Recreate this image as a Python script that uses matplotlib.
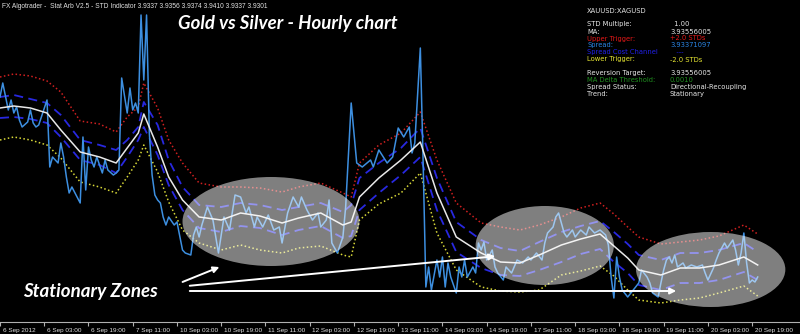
import matplotlib
matplotlib.use("Agg")
import matplotlib.pyplot as plt
import matplotlib.transforms as mtransforms
from matplotlib.patches import Ellipse

# hourly bars from 6 Sep 2012, one label every 16 bars
tick_bars = list(range(0, 273, 16))
tick_labels = ["6 Sep 2012", "6 Sep 03:00", "6 Sep 19:00", "7 Sep 11:00",
               "10 Sep 03:00", "10 Sep 19:00", "11 Sep 11:00", "12 Sep 03:00",
               "12 Sep 19:00", "13 Sep 11:00", "14 Sep 03:00", "14 Sep 19:00",
               "17 Sep 11:00", "18 Sep 03:00", "18 Sep 19:00", "19 Sep 11:00",
               "20 Sep 03:00", "20 Sep 19:00"]

# spread (chart units)
spread_bars = [0, 1, 3, 4, 5, 6, 7, 8, 10, 11, 12, 13, 14, 17, 18, 19, 21, 22, 23, 24,
               25, 26, 29, 30, 31, 32, 33, 34, 35, 37, 38, 39, 41, 42, 43, 44, 46, 47, 48, 49,
               50, 51, 52, 53, 54, 55, 56, 57, 58, 59, 60, 61, 63, 64, 66, 67, 69, 70, 71, 72,
               73, 75, 77, 79, 81, 83, 85, 87, 89, 90, 92, 93, 95, 97, 99, 101, 102, 104, 106, 108,
               109, 111, 113, 115, 116, 118, 119, 120, 122, 124, 125, 127, 129, 131, 134, 135, 137, 140, 142, 144,
               146, 148, 149, 150, 152, 153, 154, 155, 156, 158, 159, 160, 161, 162, 163, 165, 166, 167, 168, 169,
               171, 172, 173, 174, 175, 176, 178, 179, 180, 182, 183, 185, 187, 189, 191, 192, 194, 196, 197, 198,
               200, 201, 202, 203, 204, 205, 207, 208, 210, 212, 213, 215, 217, 219, 220, 221, 222, 223, 224, 225,
               227, 229, 231, 232, 234, 235, 236, 238, 239, 240, 241, 242, 243, 244, 245, 247, 248, 250, 252, 254,
               255, 256, 258, 259, 260, 261, 262, 263, 265, 266, 267, 268, 269, 270, 271, 272, 273, 274]
spread = [225, 239, 212, 222, 209, 215, 202, 195, 200, 212, 199, 195, 197, 222, 155, 165, 159, 179, 165, 145,
          129, 135, 119, 185, 132, 175, 162, 155, 165, 149, 162, 152, 147, 149, 152, 244, 209, 234, 212, 219,
          209, 307, 242, 307, 189, 147, 127, 122, 119, 105, 97, 105, 97, 100, 72, 69, 67, 87, 95, 85,
          97, 115, 102, 69, 105, 92, 127, 125, 109, 115, 95, 105, 95, 107, 92, 95, 79, 109, 125, 115,
          125, 112, 102, 109, 95, 102, 122, 79, 69, 85, 115, 219, 159, 155, 162, 155, 172, 159, 165, 194,
          185, 195, 169, 179, 274, 162, 35, 55, 32, 62, 45, 65, 35, 59, 45, 29, 55, 45, 62, 45,
          55, 49, 79, 72, 80, 62, 72, 55, 49, 42, 55, 49, 62, 59, 65, 62, 69, 62, 79, 89,
          95, 105, 109, 99, 89, 85, 92, 85, 92, 87, 95, 89, 92, 87, 77, 45, 24, 65, 45, 32,
          25, 32, 39, 52, 45, 39, 29, 25, 39, 52, 62, 65, 59, 67, 55, 59, 54, 57, 55, 57,
          49, 42, 54, 62, 69, 74, 79, 74, 82, 72, 57, 69, 89, 59, 39, 42, 40, 45]

# smoothed indicator lines
line_bars = [0, 5, 11, 17, 22, 29, 36, 42, 46, 50, 52, 57, 61, 66, 72, 80, 87, 94, 102, 108,
             116, 124, 127, 130, 137, 145, 152, 158, 165, 174, 181, 188, 195, 203, 210, 217, 222, 227, 231, 239,
             246, 253, 260, 269, 274]
ma = [214, 216, 214, 209, 192, 170, 165, 159, 174, 189, 208, 175, 145, 122, 105, 102, 109, 106, 99, 104,
      109, 97, 100, 125, 144, 162, 180, 129, 85, 69, 60, 59, 67, 77, 83, 88, 76, 64, 52, 47,
      54, 54, 57, 65, 57]
upper_trigger = [245, 248, 246, 241, 230, 201, 198, 190, 205, 215, 239, 214, 182, 159, 139, 135, 135, 134, 130, 135,
                 139, 129, 125, 159, 177, 189, 210, 162, 119, 99, 95, 92, 97, 105, 114, 119, 108, 95, 85, 78,
                 80, 82, 86, 97, 88]
lower_trigger = [182, 185, 182, 177, 164, 140, 135, 129, 145, 162, 177, 150, 120, 92, 79, 72, 77, 72, 69, 74,
                 76, 67, 65, 102, 118, 129, 149, 89, 52, 35, 31, 30, 32, 47, 51, 56, 46, 32, 22, 19,
                 22, 24, 29, 36, 26]
cost_upper = [225, 227, 223, 219, 207, 182, 177, 172, 182, 195, 220, 197, 162, 135, 117, 115, 119, 117, 112, 115,
              119, 110, 117, 144, 159, 174, 194, 144, 100, 82, 74, 71, 80, 90, 96, 101, 90, 78, 67, 62,
              69, 69, 72, 79, 70]
cost_lower = [204, 205, 203, 199, 185, 162, 157, 149, 165, 182, 195, 167, 137, 112, 94, 90, 96, 94, 87, 92,
              96, 84, 86, 112, 129, 147, 165, 112, 70, 54, 47, 46, 52, 60, 68, 73, 60, 49, 37, 32,
              39, 39, 42, 50, 42]

# stationary zones (bars / levels)
zone_start = [66, 172, 230]
zone_end = [130, 222, 284]
zone_low = [56, 37, 15]
zone_high = [145, 116, 90]

W, H = 800, 334


def fpos(x, y):
    # pixel position (from top-left) -> figure fraction
    return x / W, 1 - y / H


fig = plt.figure(figsize=(8, 3.34), dpi=100, facecolor="black")
ax = fig.add_axes([0, 12 / H, 1, 322 / H])
ax.set_facecolor("black")

ax.plot(line_bars, upper_trigger, color="#d02020", lw=1.1, ls=(0, (1, 1.6)))
ax.plot(line_bars, lower_trigger, color="#d8d838", lw=1.1, ls=(0, (1, 1.6)))
ax.plot(line_bars, cost_upper, color="#2828e0", lw=1.3, ls=(0, (5, 3)))
ax.plot(line_bars, cost_lower, color="#2828e0", lw=1.3, ls=(0, (5, 3)))
ax.plot(spread_bars, spread, color="#3d8fe0", lw=1.1)
ax.plot(line_bars, ma, color="#e8e8e8", lw=1.1)

for s, e, lo, hi in zip(zone_start, zone_end, zone_low, zone_high):
    ax.add_patch(Ellipse(((s + e) / 2, (lo + hi) / 2), e - s, hi - lo,
                         facecolor="white", edgecolor="none", alpha=0.5, zorder=5))

ax.set_xlim(0, 289.3)
ax.set_ylim(0, 322)
ax.set_yticks([])
for side in ["top", "left", "right"]:
    ax.spines[side].set_visible(False)
ax.spines["bottom"].set_color("#b0b0b0")
ax.set_xticks(tick_bars)
ax.set_xticklabels(tick_labels, ha="left", fontsize=4.6, color="#e0e0e0",
                   family="Liberation Sans")
ax.tick_params(axis="x", colors="#b0b0b0", length=3, width=0.8, pad=1,
               labelcolor="#e0e0e0")
shift = mtransforms.ScaledTranslation(2 / 72, 0, fig.dpi_scale_trans)
for lab in ax.get_xticklabels():
    lab.set_transform(lab.get_transform() + shift)

# header
fig.text(*fpos(2, 6), "FX Algotrader -  Stat Arb V2.5 - STD Indicator 3.9337 3.9356 3.9374 3.9410 3.9337 3.9301",
         fontsize=4.75, color="#e0e0e0", family="Liberation Sans", va="center")
fig.text(*fpos(288, 23), "Gold vs Silver - Hourly chart", fontsize=13.4, color="white",
         family="Lato", weight="bold", style="italic", ha="center", va="center")
fig.text(*fpos(23, 291), "Stationary Zones", fontsize=13.5, color="white",
         family="Lato", weight="bold", style="italic", va="center")

# info panel
info_rows = [
    (11, "XAUUSD:XAGUSD", "", "#e6e6e6"),
    (24, "STD Multiple:", "  1.00", "#e6e6e6"),
    (31.5, "MA:", "3.93556005", "#e6e6e6"),
    (38.5, "Upper Trigger:", "+2.0 STDs", "#e61818"),
    (45, "Spread:", "3.93371097", "#2a86e6"),
    (52, "Spread Cost Channel", "   ---", "#2020e8"),
    (59.5, "Lower Trigger:", "-2.0 STDs", "#e6e632"),
    (73, "Reversion Target:", "3.93556005", "#e6e6e6"),
    (80, "MA Delta Threshold:", "0.0010", "#1f8f1f"),
    (87, "Spread Status:", "Directional-Recoupling", "#e6e6e6"),
    (94, "Trend:", "Stationary", "#e6e6e6"),
]
for y, label, value, col in info_rows:
    fig.text(*fpos(587, y), label, fontsize=4.9, color=col, va="center")
    if value:
        fig.text(*fpos(670, y), value, fontsize=4.9, color=col, va="center")

# arrows
arrow_kw = dict(arrowstyle="-|>", color="white", lw=1.4, mutation_scale=9)
for (x0, y0), (x1, y1) in [((180, 283), (222, 266)),
                           ((187, 286), (498, 256)),
                           ((187, 291), (679, 291))]:
    ax.annotate("", xy=(x1, H - y1), xytext=(x0, H - y0),
                xycoords="figure pixels", textcoords="figure pixels",
                arrowprops=arrow_kw, zorder=6)

fig.savefig("out.png", dpi=100, facecolor="black")
